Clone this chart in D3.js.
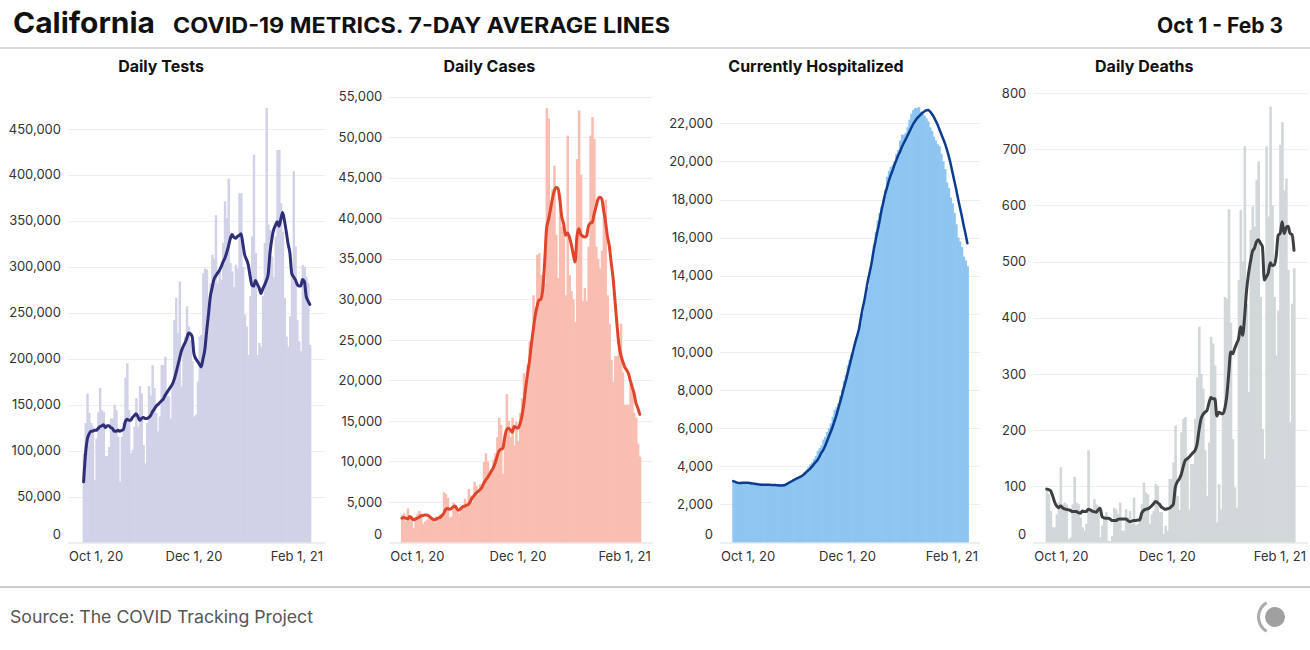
<!DOCTYPE html>
<html>
<head>
<meta charset="utf-8">
<script src="https://cdn.jsdelivr.net/npm/d3@7"></script>
<style>
body { margin: 0; background: #fff; }
svg text { font-family: Inter, "Noto Sans", sans-serif; }
</style>
</head>
<body>
<div id="chart"></div>
<script>

// date range shown: Oct 1, 2020 - Feb 3, 2021 (126 days)
var firstDay = new Date(2020, 9, 1);
var lastDay = new Date(2021, 1, 3);

var panelTitles = ["Daily Tests", "Daily Cases", "Currently Hospitalized", "Daily Deaths"];

var xTickDates = [new Date(2020, 9, 1), new Date(2020, 11, 1), new Date(2021, 1, 1)];
var xTickLabels = ["Oct 1, 20", "Dec 1, 20", "Feb 1, 21"];

var testsTicks = [0, 50000, 100000, 150000, 200000, 250000, 300000, 350000, 400000, 450000];
var casesTicks = [0, 5000, 10000, 15000, 20000, 25000, 30000, 35000, 40000, 45000, 50000, 55000];
var hospTicks = [0, 2000, 4000, 6000, 8000, 10000, 12000, 14000, 16000, 18000, 20000, 22000];
var deathsTicks = [0, 100, 200, 300, 400, 500, 600, 700, 800];

// daily tests (thousands)
var testsDaily = [97,130,162,141,130,126,68,113,142,168,144,142,94,94,104,135,135,150,144,115,
	66,115,130,179,195,144,97,101,126,157,126,170,162,106,86,130,170,160,193,168,
	141,121,137,193,193,202,160,159,135,170,242,266,228,284,170,217,224,257,235,220,
	197,137,139,175,224,226,293,298,297,260,282,313,309,356,282,295,286,326,371,353,
	396,304,295,278,302,298,380,380,300,248,235,204,268,333,422,315,204,217,213,268,
	326,473,346,340,311,289,333,427,427,369,338,266,224,213,246,297,404,322,242,219,
	208,302,300,289,282,215];
// 7-day average tests (thousands)
var testsAvg = [66,95,112,118,121,121,122,122,124,126,127,128,125,127,127,125,124,121,121,122,
	121,122,123,131,134,133,133,136,138,140,137,133,135,136,135,135,136,138,142,145,
	148,150,152,154,156,160,163,166,169,172,177,184,192,200,208,213,217,222,228,227,
	224,205,200,197,194,191,200,210,230,248,267,277,286,290,293,296,300,305,309,315,
	322,330,335,332,331,333,334,336,325,313,308,302,290,280,279,285,281,277,271,276,
	280,285,292,315,330,340,345,349,344,352,359,350,338,325,315,293,289,286,281,279,
	279,286,284,268,263,259];

// daily cases (thousands)
var casesDaily = [3.4,3.6,2.6,4.2,3.0,3.3,1.8,3.0,3.5,3.9,3.6,2.3,2.6,2.8,3.0,3.0,2.8,2.5,3.2,3.0,
	3.5,3.3,6.2,6.0,5.5,3.1,3.2,4.9,4.4,3.9,3.6,4.2,4.6,5.4,4.4,6.6,5.8,5.0,7.5,7.0,
	5.9,7.2,6.9,9.9,11.0,10.0,8.8,9.0,10.2,11.0,13.0,15.4,14.5,8.5,13.5,18.3,15.0,13.0,15.4,12.0,
	14.9,12.5,16.0,17.8,20.9,19.5,22.0,24.8,24.8,30.5,29.0,35.5,35.7,33.0,30.5,32.0,53.6,52.3,41.0,43.6,
	46.5,38.0,32.6,43.0,39.0,39.0,30.5,50.2,33.0,31.0,30.0,27.2,47.3,53.3,45.4,29.8,31.4,29.8,36.5,50.2,
	52.5,49.8,36.5,35.0,33.8,36.0,42.0,42.3,30.5,27.0,22.5,19.8,23.0,23.0,24.0,27.0,21.0,17.0,17.0,17.0,
	19.5,18.5,16.0,15.4,12.2,10.6];
// 7-day average cases (thousands)
var casesAvg = [3.0,3.1,3.0,2.9,3.2,3.0,2.8,2.9,3.0,3.1,3.3,3.3,3.4,3.4,3.3,3.1,2.9,2.8,2.9,3.0,
	3.1,3.3,3.6,4.1,4.2,4.1,4.2,4.4,4.5,4.1,4.0,4.2,4.4,4.5,4.6,4.7,5.1,5.5,5.8,6.1,
	6.3,6.5,6.8,7.3,7.7,8.0,8.4,8.8,9.2,9.8,10.6,11.3,11.5,11.6,12.9,13.9,14.1,13.9,13.6,14.3,
	14.2,14.1,14.6,15.5,17.0,19.0,20.8,22.3,24.4,26.2,27.9,29.1,29.9,30.0,31.2,34.5,38.7,39.8,41.0,42.3,
	43.3,43.8,43.7,42.3,40.2,39.3,37.9,38.2,37.7,36.8,35.6,34.6,37.8,38.7,38.0,37.8,37.7,37.8,39.0,39.4,
	39.5,40.5,41.4,42.3,42.6,42.4,41.0,39.6,37.8,36.6,34.5,32.6,29.8,27.0,24.5,23.2,22.4,21.7,21.3,20.9,
	20.0,19.2,18.4,17.2,16.6,15.8];

// currently hospitalized (thousands)
var hospDaily = [3.25,3.20,3.16,3.15,3.15,3.16,3.15,3.14,3.15,3.14,3.12,3.12,3.10,3.10,3.09,3.10,3.08,3.07,3.08,3.06,
	3.05,3.05,3.04,3.05,3.04,3.06,3.05,3.08,3.10,3.14,3.17,3.20,3.24,3.30,3.38,3.45,3.50,3.58,3.70,3.82,
	3.95,4.10,4.20,4.38,4.55,4.80,4.95,5.10,5.40,5.55,5.80,6.00,6.25,6.60,6.95,7.10,7.30,7.70,8.00,8.50,
	8.80,9.30,9.60,9.90,10.15,10.40,10.75,11.05,11.50,12.00,12.60,13.00,13.40,14.30,14.80,15.60,16.30,16.90,17.30,17.60,
	18.00,18.50,19.20,19.50,19.70,19.80,20.00,20.40,20.60,21.10,21.40,21.40,21.50,21.80,22.20,22.50,22.70,22.80,22.80,22.85,
	22.60,22.50,22.40,22.25,22.10,21.80,21.60,21.30,21.10,20.90,20.80,20.40,20.00,19.60,18.90,18.60,18.10,17.80,17.30,16.70,
	16.00,15.80,15.50,15.00,14.80,14.50];
// 7-day average hospitalized (thousands)
var hospAvg = [3.22,3.18,3.14,3.12,3.12,3.13,3.13,3.14,3.13,3.12,3.10,3.09,3.07,3.06,3.04,3.03,3.03,3.03,3.03,3.03,
	3.02,3.02,3.02,3.01,3.00,2.99,2.99,3.00,3.04,3.09,3.15,3.20,3.26,3.31,3.36,3.41,3.46,3.52,3.60,3.69,
	3.78,3.87,3.98,4.10,4.22,4.33,4.50,4.70,4.85,5.05,5.30,5.55,5.80,6.05,6.35,6.65,7.00,7.35,7.70,8.10,
	8.45,8.85,9.25,9.65,10.05,10.45,10.80,11.15,11.70,12.25,12.70,13.25,13.80,14.25,14.75,15.35,15.85,16.35,16.80,17.35,
	17.80,18.25,18.60,18.95,19.25,19.50,19.80,20.05,20.30,20.50,20.75,20.95,21.15,21.35,21.55,21.75,21.95,22.10,22.25,22.35,
	22.45,22.55,22.62,22.68,22.70,22.62,22.50,22.35,22.15,21.95,21.70,21.45,21.20,20.95,20.65,20.30,19.90,19.45,19.00,18.55,
	18.05,17.60,17.15,16.65,16.20,15.70];

// daily deaths
var deathsDaily = [92,86,56,27,27,50,71,134,68,71,68,6,9,68,117,71,68,45,27,21,
	33,164,56,54,77,68,65,9,30,45,54,3,2,12,62,59,51,71,21,21,
	59,45,56,33,80,30,33,45,68,107,89,86,33,50,56,104,101,54,54,15,
	30,21,113,113,143,208,83,58,196,220,223,152,59,140,140,220,294,384,300,274,
	164,83,178,366,354,315,36,104,59,229,437,434,593,391,184,98,62,467,592,500,
	705,425,268,556,598,562,645,678,437,202,149,705,580,776,600,437,333,413,708,748,
	627,648,485,214,425,488];
// 7-day average deaths
var deathsAvg = [95,94,92,83,72,65,62,65,62,60,59,58,57,55,55,55,53,52,56,55,
	55,59,58,56,55,54,58,61,46,44,43,43,42,39,39,39,41,42,42,42,
	42,39,37,38,39,39,40,40,52,57,59,60,62,65,69,73,71,68,63,61,
	59,60,61,64,68,98,108,113,121,135,146,149,152,156,160,164,175,200,220,228,
	232,235,248,258,256,256,225,232,230,229,238,260,300,339,336,345,354,363,384,369,
	400,448,478,500,518,524,535,539,533,527,467,473,480,498,493,494,510,547,550,571,
	550,560,563,550,548,520];

// layout of the four small multiples (pixels)
var panelLayout = [
	{ axisStart: 68,     axisEnd: 325,  barStart: 82.7,   barEnd: 310.7, titleX: 161,    yMax: 489000 },
	{ axisStart: 389.3,  axisEnd: 652.7, barStart: 401,   barEnd: 640.7, titleX: 489.3,  yMax: 55460 },
	{ axisStart: 720,    axisEnd: 980,  barStart: 732.3,  barEnd: 968.3, titleX: 816,    yMax: 23590 },
	{ axisStart: 1033.3, axisEnd: 1308, barStart: 1045.7, barEnd: 1295,  titleX: 1144.3, yMax: 800 }
];

var panelColors = [
	{ bar: "#d1d1e8", line: "#2e2f78" },
	{ bar: "#f9bdb1", line: "#e0442a" },
	{ bar: "#8ec5f1", line: "#0c3c8e" },
	{ bar: "#d2d7d9", line: "#3d4042" }
];

var baselineY = 542.5, plotTop = 93;


/*
 * MetricPanel - one small multiple: daily bars + 7-day average line
 */

MetricPanel = function(_svg, _title, _daily, _avg, _ticks, _layout, _colors, _lineWidth){
	this.svg = _svg;
	this.title = _title;
	this.days = d3.timeDay.range(firstDay, d3.timeDay.offset(lastDay, 1));
	this.data = this.days.map(function(d, i){
		return { date: d, value: _daily[i], avg: _avg[i] };
	});
	this.ticks = _ticks;
	this.layout = _layout;
	this.colors = _colors;
	this.lineWidth = _lineWidth;

	this.initVis();
}

MetricPanel.prototype.initVis = function(){
	var vis = this;
	var L = vis.layout;

	vis.g = vis.svg.append("g");

	vis.x = d3.scaleBand()
		.domain(vis.days)
		.range([L.barStart, L.barEnd])
		.padding(0);

	vis.y = d3.scaleLinear()
		.domain([0, L.yMax])
		.range([baselineY, plotTop]);

	// title
	vis.g.append("text")
		.attr("x", L.titleX)
		.attr("y", 72)
		.attr("text-anchor", "middle")
		.attr("font-size", 16)
		.attr("font-weight", 700)
		.attr("fill", "#111")
		.text(vis.title);

	// gridlines
	vis.g.selectAll(".grid")
		.data(vis.ticks.filter(function(t){ return t > 0; }))
		.enter().append("line")
		.attr("class", "grid")
		.attr("x1", L.axisStart)
		.attr("x2", L.axisEnd)
		.attr("y1", function(d){ return Math.round(vis.y(d)) + 0.5; })
		.attr("y2", function(d){ return Math.round(vis.y(d)) + 0.5; })
		.attr("stroke", "#eeeeee")
		.attr("stroke-width", 1);

	vis.yAxis = d3.axisLeft(vis.y)
		.tickValues(vis.ticks)
		.tickFormat(d3.format(","))
		.tickSize(0)
		.tickPadding(7);

	vis.xAxis = d3.axisBottom(vis.x)
		.tickValues(xTickDates.map(function(d){ return vis.days.find(function(dd){ return +dd === +d; }); }))
		.tickFormat(function(d, i){ return xTickLabels[i]; })
		.tickSize(0)
		.tickPadding(9);

	vis.updateVis();
}

MetricPanel.prototype.updateVis = function(){
	var vis = this;
	var L = vis.layout;
	var bw = vis.x.bandwidth();

	// bars overlap a little so no seams show between them
	vis.g.selectAll(".bar")
		.data(vis.data)
		.enter().append("rect")
		.attr("class", "bar")
		.attr("x", function(d){ return vis.x(d.date); })
		.attr("width", bw + 0.6)
		.attr("y", function(d){ return vis.y(d.value); })
		.attr("height", function(d){ return baselineY - vis.y(d.value); })
		.attr("fill", vis.colors.bar);

	vis.line = d3.line()
		.curve(d3.curveMonotoneX)
		.x(function(d){ return vis.x(d.date) + bw / 2; })
		.y(function(d){ return vis.y(d.avg); });

	vis.g.append("path")
		.datum(vis.data)
		.attr("fill", "none")
		.attr("stroke", vis.colors.line)
		.attr("stroke-width", vis.lineWidth)
		.attr("stroke-linejoin", "round")
		.attr("stroke-linecap", "round")
		.attr("d", vis.line);

	// baseline
	vis.g.append("line")
		.attr("x1", L.axisStart)
		.attr("x2", L.axisEnd)
		.attr("y1", baselineY + 0.5)
		.attr("y2", baselineY + 0.5)
		.attr("stroke", "#dddddd");

	var yg = vis.g.append("g")
		.attr("transform", "translate(" + L.axisStart + ",0)")
		.call(vis.yAxis);
	yg.select(".domain").remove();
	yg.selectAll("text")
		.attr("font-size", 13)
		.attr("font-family", "Inter, sans-serif")
		.attr("fill", "#333")
		.attr("y", function(d){ return d === 0 ? -8 : 0; });

	var xg = vis.g.append("g")
		.attr("transform", "translate(0," + baselineY + ")")
		.call(vis.xAxis);
	xg.select(".domain").remove();
	xg.selectAll("text")
		.attr("font-size", 13)
		.attr("font-family", "Inter, sans-serif")
		.attr("fill", "#333");

	// keep end labels inside the panel
	xg.selectAll(".tick").each(function(d){
		var t = d3.select(this).select("text");
		var w = t.node().getComputedTextLength();
		var cx = vis.x(d) + bw / 2;
		var shift = 0;
		if (cx - w / 2 < L.axisStart + 1) shift = L.axisStart + 1 - (cx - w / 2);
		if (cx + w / 2 > L.axisEnd - 2) shift = L.axisEnd - 2 - (cx + w / 2);
		t.attr("x", shift);
	});
}


var svg = d3.select("#chart").append("svg")
	.attr("width", 1310)
	.attr("height", 650);

svg.append("rect").attr("width", 1310).attr("height", 650).attr("fill", "#fff");

// header
svg.append("text")
	.attr("x", 13).attr("y", 33)
	.attr("font-size", 29).attr("font-weight", 700).attr("fill", "#111")
	.attr("textLength", 142).attr("lengthAdjust", "spacingAndGlyphs")
	.text("California");

svg.append("text")
	.attr("x", 173).attr("y", 33)
	.attr("font-size", 21).attr("font-weight", 700).attr("fill", "#111")
	.attr("textLength", 497).attr("lengthAdjust", "spacingAndGlyphs")
	.text("COVID-19 METRICS. 7-DAY AVERAGE LINES");

svg.append("text")
	.attr("x", 1283).attr("y", 33)
	.attr("text-anchor", "end")
	.attr("font-size", 21).attr("font-weight", 700).attr("fill", "#111")
	.text("Oct 1 - Feb 3");

svg.append("line")
	.attr("x1", 0).attr("x2", 1310).attr("y1", 48).attr("y2", 48)
	.attr("stroke", "#cccccc").attr("stroke-width", 1.5);

var panels = [];
panels.push(new MetricPanel(svg, panelTitles[0], testsDaily.map(function(v){ return v * 1000; }),
	testsAvg.map(function(v){ return v * 1000; }), testsTicks, panelLayout[0], panelColors[0], 3));
panels.push(new MetricPanel(svg, panelTitles[1], casesDaily.map(function(v){ return v * 1000; }),
	casesAvg.map(function(v){ return v * 1000; }), casesTicks, panelLayout[1], panelColors[1], 3));
panels.push(new MetricPanel(svg, panelTitles[2], hospDaily.map(function(v){ return v * 1000; }),
	hospAvg.map(function(v){ return v * 1000; }), hospTicks, panelLayout[2], panelColors[2], 2.5));
panels.push(new MetricPanel(svg, panelTitles[3], deathsDaily, deathsAvg, deathsTicks, panelLayout[3], panelColors[3], 3));

// footer
svg.append("line")
	.attr("x1", 0).attr("x2", 1310).attr("y1", 587).attr("y2", 587)
	.attr("stroke", "#bbbbbb").attr("stroke-width", 1.5);

svg.append("text")
	.attr("x", 10).attr("y", 623)
	.attr("font-size", 17).attr("fill", "#555")
	.attr("textLength", 303).attr("lengthAdjust", "spacingAndGlyphs")
	.text("Source: The COVID Tracking Project");

// logo
var logo = svg.append("g").attr("transform", "translate(1275,617)");
logo.append("circle").attr("r", 10).attr("fill", "#a0a0a0");
logo.append("path")
	.attr("d", d3.arc()({ innerRadius: 15, outerRadius: 18, startAngle: Math.PI * 1.17, endAngle: Math.PI * 1.83 }))
	.attr("fill", "#ababab");

</script>
</body>
</html>
